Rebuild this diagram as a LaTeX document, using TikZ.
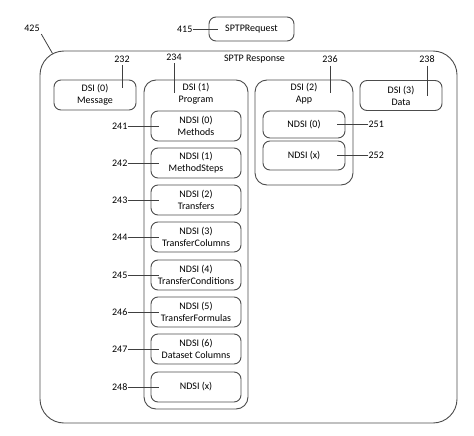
\documentclass[tikz,border=0pt]{standalone}
\usepackage{fontspec}
\setmainfont{Carlito}
\usetikzlibrary{positioning}

\begin{document}
\begin{tikzpicture}[
    x=1pt, y=-1pt,
    font=\fontsize{10}{12}\selectfont,
    every node/.style={text=black},
    box/.style={
        rectangle,
        draw=black!70,
        line width=0.9pt,
        rounded corners=7pt,
        align=center,
        inner sep=0pt
    },
    group/.style={
        rectangle,
        draw=black!70,
        line width=0.9pt,
        rounded corners=12pt,
        inner sep=0pt
    },
    grouptitle/.style={
        align=center,
        anchor=north,
        inner sep=3pt
    },
    num/.style={
        inner sep=0pt
    },
    lead/.style={
        draw=black!75,
        line width=0.8pt
    }
]

\useasboundingbox (0,0) rectangle (474,436);

% Request
\node[box, minimum width=85, minimum height=24] (request) at (251.5,29) {SPTPRequest};
\node[num, left=16pt of request] (l415) {415};
\draw[lead] (l415.east) -- ([xshift=9]request.west);

% Response
\node[group, rounded corners=24pt, minimum width=417, minimum height=372] (response) at (248.5,237) {};
\node (rtitle) at (254.5,59) {SPTP Response};
\node[num] (l425) at (32,28) {425};
\draw[lead, shorten <=3pt] (l425.south east) -- ([xshift=13,yshift=-3]response.north west);

% DSI (0)
\node[box, minimum width=82, minimum height=30] (dsi0) at (95,95) {DSI (0)\\Message};
\node[num] (l232) at (122,59) {232};
\draw[lead, shorten <=3pt, shorten >=7pt] (l232.south) -- (l232.south |- dsi0.center);

% DSI (1)
\node[group, minimum width=104, minimum height=329] (dsi1) at (196,244.5) {};
\node[grouptitle] (t1) at (dsi1.north) {DSI (1)\\Program};
\node[num] (l234) at (174,57) {234};
\draw[lead, shorten <=3pt] (l234.south) -- (l234.south |- t1.center);

% NDSI of DSI (1)
\node[box, minimum width=90, minimum height=30] (m0) at (196,126) {NDSI (0)\\Methods};
\node[box, minimum width=90, minimum height=30] (m1) at (196,163) {NDSI (1)\\MethodSteps};
\node[box, minimum width=90, minimum height=30] (m2) at (196,200) {NDSI (2)\\Transfers};
\node[box, minimum width=90, minimum height=30] (m3) at (196,237) {NDSI (3)\\TransferColumns};
\node[box, minimum width=90, minimum height=30] (m4) at (196,275) {NDSI (4)\\TransferConditions};
\node[box, minimum width=90, minimum height=30] (m5) at (196,312) {NDSI (5)\\TransferFormulas};
\node[box, minimum width=90, minimum height=30] (m6) at (196,349) {NDSI (6)\\Dataset Columns};
\node[box, minimum width=90, minimum height=30] (m7) at (196,387) {NDSI (x)};

\node[num, left=23pt of m0] (l241) {241};
\node[num, left=23pt of m1] (l242) {242};
\node[num, left=23pt of m2] (l243) {243};
\node[num, left=23pt of m3] (l244) {244};
\node[num, left=23pt of m4] (l245) {245};
\node[num, left=23pt of m5] (l246) {246};
\node[num, left=23pt of m6] (l247) {247};
\node[num, left=23pt of m7] (l248) {248};

\draw[lead] (l241.east) -- ([xshift=8]m0.west);
\draw[lead] (l242.east) -- ([xshift=8]m1.west);
\draw[lead] (l243.east) -- ([xshift=8]m2.west);
\draw[lead] (l244.east) -- ([xshift=8]m3.west);
\draw[lead] (l245.east) -- ([xshift=8]m4.west);
\draw[lead] (l246.east) -- ([xshift=8]m5.west);
\draw[lead] (l247.east) -- ([xshift=8]m6.west);
\draw[lead] (l248.east) -- ([xshift=8]m7.west);

% DSI (2)
\node[group, minimum width=98, minimum height=105] (dsi2) at (304,132.5) {};
\node[grouptitle] (t2) at (dsi2.north) {DSI (2)\\App};
\node[num] (l236) at (330,59) {236};
\draw[lead, shorten <=3pt] (l236.south) -- (l236.south |- t2.center);

\node[box, minimum width=82, minimum height=27] (a0) at (304,124.5) {NDSI (0)};
\node[box, minimum width=82, minimum height=29] (ax) at (304,155.5) {NDSI (x)};
\node[num, right=23pt of a0] (l251) {251};
\node[num, right=23pt of ax] (l252) {252};
\draw[lead] (l251.west) -- ([xshift=-8]a0.east);
\draw[lead] (l252.west) -- ([xshift=-8]ax.east);

% DSI (3)
\node[box, minimum width=82, minimum height=30] (dsi3) at (401,95.5) {DSI (3)\\Data};
\node[num] (l238) at (427,59) {238};
\draw[lead, shorten <=3pt] (l238.south) -- (l238.south |- dsi3.center);

\end{tikzpicture}
\end{document}
